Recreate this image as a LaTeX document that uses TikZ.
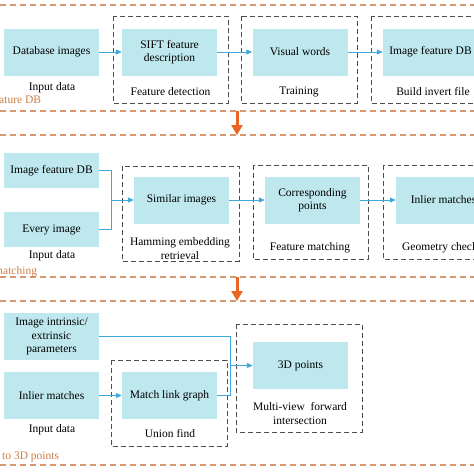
\documentclass[tikz,border=0pt]{standalone}
\usepackage{fontspec}
\setmainfont{Liberation Serif}
\usepackage{xcolor}
\usetikzlibrary{arrows.meta}

\definecolor{boxfill}{RGB}{190,232,238}
\definecolor{flowblue}{RGB}{62,168,218}
\definecolor{stageline}{RGB}{214,150,110}
\definecolor{stagetext}{RGB}{205,125,70}
\definecolor{stagearrow}{RGB}{236,100,35}

\tikzset{
	databox/.style={fill=boxfill, minimum width=95pt, minimum height=47pt, inner sep=1pt, align=center, font=\fontsize{11.5}{13.5}\selectfont},
	flatbox/.style={databox, minimum height=35pt},
	tag/.style={inner sep=0pt, align=center, font=\fontsize{11.5}{14}\selectfont},
	stagetag/.style={tag, text=stagetext, anchor=west},
	groupbox/.style={draw=black!70, line width=1pt, dash pattern=on 5pt off 3pt},
	stagerule/.style={draw=stageline, line width=1.1pt, dash pattern=on 6pt off 4pt},
	flow/.style={draw=flowblue, line width=1pt, -{Triangle[length=6pt,width=5pt]}},
	link/.style={draw=flowblue, line width=1pt},
	drop/.style={draw=stagearrow, line width=3pt, -{Triangle[length=10pt,width=11pt]}}
}

\begin{document}
\begin{tikzpicture}[x=1pt, y=-1pt]
		\useasboundingbox (0,0) rectangle (474,474);
		\clip (0,0) rectangle (474,474);
		
		% stage separators
		\foreach \y in {5,111,135,277,301,465}{
			\draw[stagerule] (0,\y) -- (474,\y);
		}
		\node[stagetag] (stageA) at (-1,100) {ature DB};
		\node[stagetag] (stageB) at (-6,272) {matching};
		\node[stagetag] (stageC) at (2,457) {to 3D points};
		
		\coordinate (dropAtop) at (237,111);
		\coordinate (dropAbot) at (237,135);
		\coordinate (dropBtop) at (237,277);
		\coordinate (dropBbot) at (237,301);
		\draw[drop] (dropAtop) -- (dropAbot);
		\draw[drop] (dropBtop) -- (dropBbot);
		
		% row 1
		\draw[groupbox] (113,16) rectangle (228,103);
		\draw[groupbox] (241,16) rectangle (357,103);
		\draw[groupbox] (371,16) rectangle (486,103);
		
		\node[databox] (dbimg) at (51.5,52) {Database images};
		\node[databox] (sift) at (169.5,52) {SIFT feature\\description};
		\node[databox] (words) at (300,52) {Visual words};
		\node[databox] (featdb) at (430.5,52) {Image feature DB};
		
		\node[tag] (inA) at (52,88) {Input data};
		\node[tag] (detect) at (170.5,92) {Feature detection};
		\node[tag] (train) at (299,92) {Training};
		\node[tag] (invert) at (433,92) {Build invert file};
		
		\draw[flow] (dbimg) -- (sift);
		\draw[flow] (sift) -- (words);
		\draw[flow] (words) -- (featdb);
		
		% row 2
		\draw[groupbox] (122,166) rectangle (239,261);
		\draw[groupbox] (253,165) rectangle (368,259);
		\draw[groupbox] (383,165) rectangle (498,259);
		
		\node[flatbox] (featdbB) at (51.5,170.5) {Image feature DB};
		\node[flatbox] (every) at (51.5,229.5) {Every image};
		\node[databox] (similar) at (181.5,200) {Similar images};
		\node[databox] (corr) at (312.5,200) {Corresponding\\points};
		\node[databox] (inlier) at (443.5,200) {Inlier matches};
		
		\node[tag] (inB) at (52,256) {Input data};
		\node[tag] (hamming) at (180,249) {Hamming embedding\\retrieval};
		\node[tag] (fmatch) at (310,248) {Feature matching};
		\node[tag] (geom) at (440,248) {Geometry check};
		
		\coordinate (merge) at (111,200);
		\draw[link] (featdbB.east) -| (merge);
		\draw[link] (every.east) -| (merge);
		\draw[flow] (merge) -- (similar);
		\draw[flow] (similar) -- (corr);
		\draw[flow] (corr) -- (inlier);
		
		% row 3
		\draw[groupbox] (111,360) rectangle (227,446);
		\draw[groupbox] (236,324) rectangle (362,432);
		
		\node[databox] (param) at (51.5,336.5) {Image intrinsic/\\extrinsic\\parameters};
		\node[databox] (inlierB) at (51.5,395.5) {Inlier matches};
		\node[databox] (linkgraph) at (169.5,395.5) {Match link graph};
		\node[databox] (points) at (300.5,365.5) {3D points};
		
		\node[tag] (inC) at (52,430) {Input data};
		\node[tag] (union) at (170,434) {Union find};
		\node[tag] (multi) at (300,414) {Multi-view\ \ forward\\intersection};
		
		\coordinate (join) at (230,365.5);
		\draw[flow] (inlierB) -- (linkgraph);
		\draw[link] (param.east) -| (join);
		\draw[link] (linkgraph.east) -| (join);
		\draw[flow] (join) -- (points);
	\end{tikzpicture}
\end{document}
